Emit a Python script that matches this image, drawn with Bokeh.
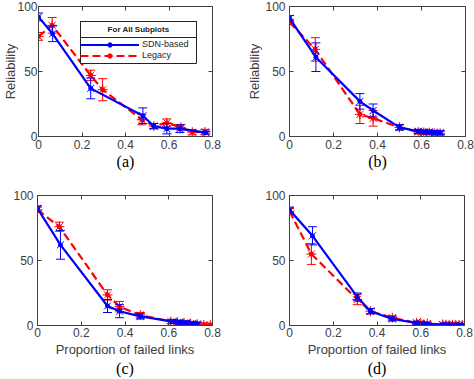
from bokeh.plotting import figure
from bokeh.layouts import column, row
from bokeh.models import LinearAxis, Legend, LegendItem, FixedTicker, BoxAnnotation, Label
from bokeh.embed import file_html
from bokeh.resources import INLINE

# ---- ticks ----
x_ticks = [0, 0.2, 0.4, 0.6, 0.8]
x_tick_labels = ["0", "0.2", "0.4", "0.6", "0.8"]
y_ticks = [0, 50, 100]
y_tick_labels = ["0", "50", "100"]

# ---- panel (a) ----
sdn_a_x = [0.0, 0.065, 0.24, 0.48, 0.53, 0.59, 0.65, 0.77]
sdn_a_y = [92, 79, 37, 16, 8, 6, 6, 3]
sdn_a_e = [3, 6, 8, 6, 2, 4, 3, 1]
leg_a_x = [0.0, 0.063, 0.24, 0.295, 0.475, 0.53, 0.59, 0.655, 0.707, 0.765]
leg_a_y = [77, 85.5, 47, 36, 13, 8, 10.5, 7, 3.3, 3.5]
leg_a_e = [3, 6, 4, 8.5, 4, 2, 3, 2, 2, 2]

# ---- panel (b) ----
sdn_b_x = [0.0, 0.12, 0.32, 0.38, 0.5, 0.585, 0.61, 0.635, 0.66, 0.685]
sdn_b_y = [91, 61, 27, 20, 7, 4, 3.5, 3.5, 3, 3]
sdn_b_e = [2, 11, 6, 5, 2, 1.5, 1.5, 1.5, 1.5, 1.5]
leg_b_x = [0.0, 0.117, 0.32, 0.38, 0.5, 0.585, 0.61, 0.635, 0.66, 0.685]
leg_b_y = [88, 67, 17, 14, 7, 3.5, 3, 3, 2.5, 2.5]
leg_b_e = [2, 9, 7, 6, 2, 1.5, 1.5, 1.5, 1.5, 1.5]

# ---- panel (c) ----
sdn_c_x = [0.0, 0.105, 0.32, 0.375, 0.47, 0.62, 0.65, 0.68, 0.71, 0.73]
sdn_c_y = [90, 62, 15, 11, 7, 3, 2.5, 2, 1.5, 1]
sdn_c_e = [2, 11, 5, 5, 2, 1.5, 1.5, 1.5, 1.5, 1.5]
leg_c_x = [0.0, 0.1, 0.32, 0.375, 0.47, 0.61, 0.64, 0.67, 0.7, 0.73, 0.76, 0.79]
leg_c_y = [89, 76, 23.5, 14.5, 8, 3, 2.5, 2, 1.5, 1, 0.5, 0.3]
leg_c_e = [2, 3.5, 4, 4, 2, 1.5, 1.5, 1.5, 1.5, 1.5, 1.5, 1.5]

# ---- panel (d) ----
sdn_d_x = [0.0, 0.105, 0.31, 0.37, 0.47, 0.58, 0.6, 0.63, 0.7, 0.72, 0.74, 0.76, 0.78, 0.8]
sdn_d_y = [89, 69, 22, 11, 5, 2, 1.5, 1, 0.5, 0.5, 0.4, 0.3, 0.3, 0.2]
sdn_d_e = [2, 7, 3, 2, 1.5, 1, 1, 1, 0.5, 0.5, 0.5, 0.5, 0.5, 0.5]
leg_d_x = [0.0, 0.1, 0.31, 0.37, 0.47, 0.58, 0.6, 0.63, 0.7, 0.715, 0.73, 0.745, 0.76, 0.775, 0.79, 0.8]
leg_d_y = [88, 55, 20, 11, 6, 2, 2, 1.5, 0.8, 0.6, 0.5, 0.5, 0.4, 0.4, 0.3, 0.3]
leg_d_e = [2, 8, 4, 2, 1.5, 1, 1, 1, 0.8, 0.8, 0.8, 0.8, 0.8, 0.8, 0.8, 0.8]

series_names = ["SDN-based", "Legacy"]
captions = ["(a)", "(b)", "(c)", "(d)"]
y_title = "Reliability"
x_title = "Proportion of failed links"
legend_title = "For All Subplots"

BLUE = "#0000FF"
RED = "#FF0000"
AX = "#404040"
FONT = "Liberation Sans"
SERIF = "Liberation Serif"


def style_axis(ax, ticks, labels, standoff):
    ax.ticker = FixedTicker(ticks=ticks)
    ax.major_label_overrides = {t: l for t, l in zip(ticks, labels)}
    ax.major_tick_in = 4
    ax.major_tick_out = 0
    ax.minor_tick_line_color = None
    ax.axis_line_color = AX
    ax.major_tick_line_color = AX
    ax.major_label_text_font = FONT
    ax.major_label_text_font_size = "12px"
    ax.major_label_text_color = AX
    ax.major_label_standoff = standoff
    ax.axis_label_text_font = FONT
    ax.axis_label_text_font_size = "13px"
    ax.axis_label_text_font_style = "normal"
    ax.axis_label_text_color = AX


def mirror_axis(ticks):
    return LinearAxis(ticker=FixedTicker(ticks=ticks),
                      major_label_overrides={t: "" for t in ticks},
                      major_label_text_font_size="0px", major_label_standoff=0,
                      major_tick_in=4, major_tick_out=0,
                      minor_tick_line_color=None, axis_line_color=None,
                      major_tick_line_color=AX)


def draw_series(p, xs, ys, es, color, dash, marker, msize):
    lo = [y - e for y, e in zip(ys, es)]
    hi = [y + e for y, e in zip(ys, es)]
    p.segment(x0=xs, y0=lo, x1=xs, y1=hi, line_color=color, line_width=1)
    p.scatter(xs, lo, marker="dash", size=9, line_color=color, line_width=1)
    p.scatter(xs, hi, marker="dash", size=9, line_color=color, line_width=1)
    ln = p.line(xs, ys, line_color=color, line_width=2.2, line_dash=dash)
    dot = p.scatter(xs, ys, marker="circle", size=4, fill_color=color, line_color=color)
    p.scatter(xs, ys, marker=marker, size=msize, line_color=color, line_width=1)
    return ln, dot


def make_panel(width, height, borders, sdn, leg, caption, top_row, ystand, ylab_standoff):
    bl, br, bt, bb = borders
    p = figure(width=width, height=height, x_range=(0, 0.8), y_range=(0, 100),
               output_backend="svg", toolbar_location=None,
               min_border_left=bl, min_border_right=br,
               min_border_top=bt, min_border_bottom=bb)
    p.grid.grid_line_color = None
    p.outline_line_color = AX
    p.outline_line_alpha = 1
    xax = p.below[0]
    yax = p.left[0]
    style_axis(xax, x_ticks, x_tick_labels, 3 if top_row else 2)
    style_axis(yax, y_ticks, y_tick_labels, ystand)
    p.add_layout(mirror_axis(x_ticks), "above")
    p.add_layout(mirror_axis(y_ticks), "right")

    leg_line, leg_dot = draw_series(p, *leg, RED, "8 4", "asterisk", 10)
    sdn_line, sdn_dot = draw_series(p, *sdn, BLUE, "solid", "x", 10)

    if top_row:
        yax.axis_label = y_title
        yax.axis_label_standoff = ylab_standoff
        xax.axis_label = caption
        xax.axis_label_standoff = 1
        xax.axis_label_text_font = SERIF
        xax.axis_label_text_font_size = "16px"
        xax.axis_label_text_color = "black"
    else:
        xax.axis_label = x_title
        xax.axis_label_standoff = 2
        cap = LinearAxis(ticker=FixedTicker(ticks=[]), axis_label=caption,
                         axis_line_color=None, major_tick_in=0, major_tick_out=0,
                         minor_tick_line_color=None, major_label_standoff=0,
                         major_label_text_font_size="0px",
                         axis_label_standoff=0, axis_label_text_font=SERIF,
                         axis_label_text_font_size="16px",
                         axis_label_text_font_style="normal",
                         axis_label_text_color="black")
        p.add_layout(cap, "below")
    return p, (sdn_line, sdn_dot), (leg_line, leg_dot)


pa, sa, la = make_panel(237, 182, (37, 25, 6, 46), (sdn_a_x, sdn_a_y, sdn_a_e),
                        (leg_a_x, leg_a_y, leg_a_e), captions[0], True, 1, -4)
pb, _, _ = make_panel(237, 182, (52, 9, 6, 46), (sdn_b_x, sdn_b_y, sdn_b_e),
                      (leg_b_x, leg_b_y, leg_b_e), captions[1], True, 4, 0)
pc, _, _ = make_panel(237, 197, (37, 25, 13, 54), (sdn_c_x, sdn_c_y, sdn_c_e),
                      (leg_c_x, leg_c_y, leg_c_e), captions[2], False, 4, 0)
pd, _, _ = make_panel(237, 197, (52, 10, 13, 54), (sdn_d_x, sdn_d_y, sdn_d_e),
                      (leg_d_x, leg_d_y, leg_d_e), captions[3], False, 4, 0)

# legend in panel (a): outer box, title cell, entries, title text
pa.add_layout(BoxAnnotation(left=42, right=158, bottom=73, top=115,
                            left_units="screen", right_units="screen",
                            bottom_units="screen", top_units="screen",
                            fill_color="white", fill_alpha=1,
                            line_color="#222222", line_width=1, line_alpha=1))
pa.add_layout(BoxAnnotation(left=42, right=158, bottom=99, top=115,
                            left_units="screen", right_units="screen",
                            bottom_units="screen", top_units="screen",
                            fill_alpha=0, line_color="#222222", line_width=1,
                            line_alpha=1))
legend = Legend(items=[LegendItem(label=series_names[0], renderers=list(sa)),
                       LegendItem(label=series_names[1], renderers=list(la))],
                location=(42, 75.5), padding=7, spacing=0, margin=0,
                glyph_width=59, glyph_height=11, label_height=11, label_standoff=3,
                label_text_font=FONT, label_text_font_size="9px",
                label_text_line_height=1.0,
                label_text_color="#222222", border_line_color=None,
                background_fill_alpha=0)
pa.add_layout(legend)
pa.add_layout(Label(x=100, y=107, x_units="screen", y_units="screen",
                    text=legend_title, text_font=FONT, text_font_size="8px",
                    text_font_style="bold", text_align="center",
                    text_baseline="middle", text_color="#222222"))

root = column(row(pa, pb, spacing=0), row(pc, pd, spacing=0), spacing=0)

open("out.html", "w").write(file_html(root, INLINE))
